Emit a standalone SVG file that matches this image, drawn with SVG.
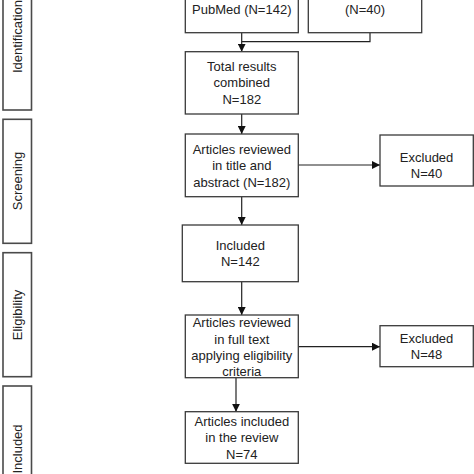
<svg xmlns="http://www.w3.org/2000/svg" width="474" height="474" viewBox="0 0 474 474">
<defs>
<marker id="ah" viewBox="0 0 10 10" refX="10" refY="5" markerWidth="8" markerHeight="8" markerUnits="userSpaceOnUse" orient="auto">
<path d="M0,0 L10,5 L0,10 Z" fill="#111"/>
</marker>
<style>
.box{fill:#fff;stroke:#3a3a3a;stroke-width:1.3}
.side{fill:#fff;stroke:#4a4a4a;stroke-width:1.6}
.t{font-family:"Liberation Sans",Arial,sans-serif;font-size:13px;fill:#222;text-anchor:middle}
.ln{fill:none;stroke:#222;stroke-width:1.2}
</style>
</defs>
<rect width="474" height="474" fill="#fff"/>

<g id="side-identification">
<rect class="side" x="3" y="-10" width="28.5" height="120"/>
<text class="t" transform="translate(22,36.5) rotate(-90)">Identification</text>
</g>
<g id="side-screening">
<rect class="side" x="3" y="119.3" width="28.5" height="124"/>
<text class="t" transform="translate(22,181) rotate(-90)">Screening</text>
</g>
<g id="side-eligibility">
<rect class="side" x="3" y="252.7" width="28.5" height="124"/>
<text class="t" transform="translate(22,315) rotate(-90)">Eligibility</text>
</g>
<g id="side-included">
<rect class="side" x="3" y="386" width="28.5" height="100"/>
<text class="t" transform="translate(22,449) rotate(-90)">Included</text>
</g>

<g id="connectors">
<path class="ln" d="M241.7,32.7 V41.7 H370 V32.7"/>
<path class="ln" d="M241.7,41.7 V51.7" marker-end="url(#ah)"/>
<path class="ln" d="M241.7,114 V134" marker-end="url(#ah)"/>
<path class="ln" d="M298.3,165 H380" marker-end="url(#ah)"/>
<path class="ln" d="M241.7,196.7 V225" marker-end="url(#ah)"/>
<path class="ln" d="M241.7,281.7 V315" marker-end="url(#ah)"/>
<path class="ln" d="M298.3,346.7 H380" marker-end="url(#ah)"/>
<path class="ln" d="M236,377.7 V411.7" marker-end="url(#ah)"/>
</g>

<g id="pubmed">
<rect class="box" x="185.3" y="-30" width="113" height="62.7"/>
<text class="t" x="241.8" y="14">PubMed (N=142)</text>
</g>
<g id="other-source">
<rect class="box" x="308.3" y="-30" width="113.4" height="62.7"/>
<text class="t" x="365" y="14">(N=40)</text>
</g>
<g id="total">
<rect class="box" x="185.3" y="51.7" width="113" height="62.3"/>
<text class="t" x="241.8" y="71.3">Total results</text>
<text class="t" x="241.8" y="87.3">combined</text>
<text class="t" x="241.8" y="103.9">N=182</text>
</g>
<g id="screen-title">
<rect class="box" x="185.3" y="134" width="113" height="62.7"/>
<text class="t" x="241.8" y="153.9">Articles reviewed</text>
<text class="t" x="241.8" y="170.3">in title and</text>
<text class="t" x="241.8" y="187.3">abstract (N=182)</text>
</g>
<g id="excluded-1">
<rect class="box" x="380" y="135" width="93.3" height="51"/>
<text class="t" x="426.6" y="161.9">Excluded</text>
<text class="t" x="426.6" y="177.9">N=40</text>
</g>
<g id="included-142">
<rect class="box" x="182.3" y="225" width="116" height="56.7"/>
<text class="t" x="240.3" y="249.6">Included</text>
<text class="t" x="240.3" y="266.3">N=142</text>
</g>
<g id="fulltext">
<rect class="box" x="185.3" y="315" width="113" height="62.7"/>
<text class="t" x="241.8" y="326.9">Articles reviewed</text>
<text class="t" x="241.8" y="343.6">in full text</text>
<text class="t" x="241.8" y="360.3">applying eligibility</text>
<text class="t" x="241.8" y="376.3">criteria</text>
</g>
<g id="excluded-2">
<rect class="box" x="380" y="325.7" width="93.3" height="41"/>
<text class="t" x="426.6" y="342.9">Excluded</text>
<text class="t" x="426.6" y="359.3">N=48</text>
</g>
<g id="final">
<rect class="box" x="185.3" y="411.7" width="113" height="51.6"/>
<text class="t" x="241.8" y="425.6">Articles included</text>
<text class="t" x="241.8" y="442.3">in the review</text>
<text class="t" x="241.8" y="458.9">N=74</text>
</g>
</svg>
